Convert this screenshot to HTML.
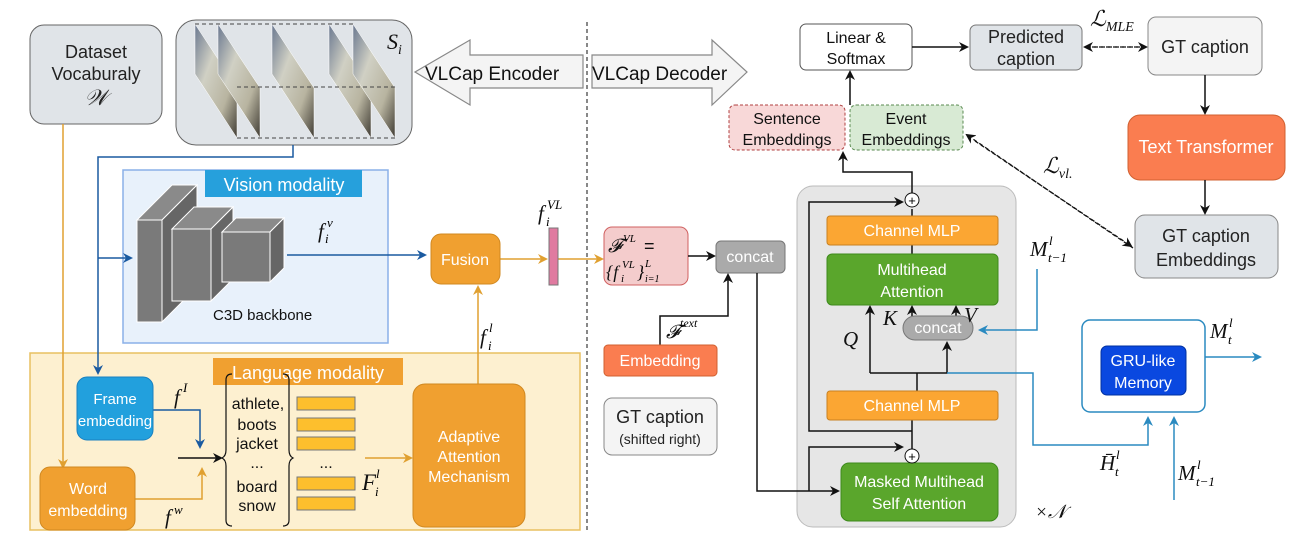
<!DOCTYPE html>
<html><head><meta charset="utf-8"><style>
html,body{margin:0;padding:0;background:#fff;}
svg{display:block;font-family:"Liberation Sans",sans-serif;}
.m{font-family:"Liberation Serif",serif;font-style:italic;}
</style></head><body>
<svg width="1292" height="550" viewBox="0 0 1292 550" xmlns="http://www.w3.org/2000/svg">
<defs>
<marker id="ab" markerWidth="10" markerHeight="10" refX="8" refY="5" orient="auto" markerUnits="userSpaceOnUse"><path d="M0,0 L10,5 L0,10 L3,5 z" fill="#1a5aa0"/></marker>
<marker id="ao" markerWidth="10" markerHeight="10" refX="8" refY="5" orient="auto" markerUnits="userSpaceOnUse"><path d="M0,0 L10,5 L0,10 L3,5 z" fill="#e0a030"/></marker>
<marker id="ak" markerWidth="10" markerHeight="10" refX="8" refY="5" orient="auto" markerUnits="userSpaceOnUse"><path d="M0,0 L10,5 L0,10 L3,5 z" fill="#111"/></marker>
<marker id="al" markerWidth="10" markerHeight="10" refX="8" refY="5" orient="auto" markerUnits="userSpaceOnUse"><path d="M0,0 L10,5 L0,10 L3,5 z" fill="#2a8ac0"/></marker>
<linearGradient id="fr" x1="0" y1="0" x2="1" y2="1"><stop offset="0" stop-color="#6a7890"/><stop offset="0.35" stop-color="#d0d0c4"/><stop offset="0.7" stop-color="#b8b4a0"/><stop offset="1" stop-color="#403c34"/></linearGradient>
</defs>

<rect x="30" y="25" width="132" height="99" rx="14" fill="#e0e4e8" stroke="#666"/>
<text x="96" y="58" font-size="18" text-anchor="middle" fill="#222">Dataset</text>
<text x="96" y="80" font-size="18" text-anchor="middle" fill="#222">Vocaburaly</text>
<text x="96" y="105" font-size="22" text-anchor="middle" class="m" fill="#222">𝒲</text>

<rect x="176" y="20" width="236" height="125" rx="20" fill="#e0e4e8" stroke="#666"/>
<g stroke="#fff" stroke-width="0.5" fill="url(#fr)">
<polygon points="195,24 237,88 237,138 195,74"/>
<polygon points="218,24 260,88 260,138 218,74"/>
<polygon points="272,24 314,88 314,138 272,74"/>
<polygon points="329,24 371,88 371,138 329,74"/>
<polygon points="353,24 395,88 395,138 353,74"/>
</g>
<g stroke="#444" stroke-dasharray="4,3" fill="none">
<line x1="195" y1="24" x2="355" y2="24"/><line x1="237" y1="87" x2="395" y2="87"/><line x1="237" y1="138" x2="395" y2="138"/>
</g>
<text x="387" y="49" font-size="22" class="m" fill="#111">S<tspan font-size="14" dy="5">i</tspan></text>

<polygon points="583,55 583,88 470,88 470,105 415,72 470,40 470,55" fill="#f4f4f4" stroke="#888" stroke-width="1.2"/>
<text x="425" y="80" font-size="19" fill="#111">VLCap Encoder</text>
<line x1="587" y1="22" x2="587" y2="532" stroke="#111" stroke-dasharray="4,3"/>
<polygon points="592,55 712,55 712,40 747,72 712,105 712,88 592,88" fill="#f4f4f4" stroke="#888" stroke-width="1.2"/>
<text x="592" y="80" font-size="19" fill="#111">VLCap Decoder</text>

<rect x="123" y="170" width="265" height="173" fill="#e8f1fb" stroke="#8ab0e8" stroke-width="1.5"/>
<rect x="205" y="170" width="157" height="27" fill="#26a0dc"/>
<text x="284" y="191" font-size="18" text-anchor="middle" fill="#fff">Vision modality</text>
<g stroke="#fff" stroke-width="1">
<polygon points="137,220 172,185 197,185 162,220" fill="#8a8a8a"/><polygon points="162,220 197,185 197,287 162,322" fill="#666"/><rect x="137" y="220" width="25" height="102" fill="#7a7a7a"/>
<polygon points="172,229 194,207 233,207 211,229" fill="#8a8a8a"/><polygon points="211,229 233,207 233,279 211,301" fill="#666"/><rect x="172" y="229" width="39" height="72" fill="#7a7a7a"/>
<polygon points="222,232 236,218 284,218 270,232" fill="#8a8a8a"/><polygon points="270,232 284,218 284,268 270,282" fill="#666"/><rect x="222" y="232" width="48" height="50" fill="#7a7a7a"/>
</g>
<text x="213" y="320" font-size="15" fill="#111">C3D backbone</text>
<text x="318" y="238" font-size="21" class="m" fill="#111">f</text><text x="327" y="227" font-size="13" class="m">v</text><text x="325" y="243" font-size="13" class="m">i</text>

<rect x="30" y="353" width="550" height="177" fill="#fdf0d0" stroke="#e8c060" stroke-width="1.5"/>
<rect x="213" y="358" width="190" height="27" fill="#f0a030"/>
<text x="308" y="379" font-size="18" text-anchor="middle" fill="#fff">Language  modality</text>

<polyline points="293,145 293,157 98,157 98,373" fill="none" stroke="#1a5aa0" stroke-width="1.5" marker-end="url(#ab)"/>
<line x1="98" y1="258" x2="131" y2="258" stroke="#1a5aa0" stroke-width="1.5" marker-end="url(#ab)"/>
<line x1="287" y1="255" x2="425" y2="255" stroke="#1a5aa0" stroke-width="1.5" marker-end="url(#ab)"/>
<polyline points="153,410 200,410 200,447" fill="none" stroke="#1a5aa0" stroke-width="1.5" marker-end="url(#ab)"/>
<line x1="63" y1="124" x2="63" y2="467" stroke="#e0a030" stroke-width="1.5" marker-end="url(#ao)"/>
<polyline points="135,499 202,499 202,469" fill="none" stroke="#e0a030" stroke-width="1.5" marker-end="url(#ao)"/>
<line x1="178" y1="458" x2="221" y2="458" stroke="#111" stroke-width="1.5" marker-end="url(#ak)"/>
<line x1="365" y1="458" x2="411" y2="458" stroke="#e0a030" stroke-width="1.5" marker-end="url(#ao)"/>
<line x1="478" y1="384" x2="478" y2="287" stroke="#e0a030" stroke-width="1.5" marker-end="url(#ao)"/>
<line x1="500" y1="259" x2="546" y2="259" stroke="#e0a030" stroke-width="1.5" marker-end="url(#ao)"/>
<line x1="558" y1="259" x2="602" y2="259" stroke="#e0a030" stroke-width="1.5" marker-end="url(#ao)"/>

<rect x="77" y="377" width="76" height="63" rx="10" fill="#22a0dd" stroke="#1a80c0"/>
<text x="115" y="404" font-size="15" text-anchor="middle" fill="#fff">Frame</text>
<text x="115" y="426" font-size="15" text-anchor="middle" fill="#fff">embedding</text>
<text x="174" y="404" font-size="21" class="m" fill="#111">f</text><text x="183" y="392" font-size="13" class="m">I</text>
<rect x="40" y="467" width="95" height="63" rx="10" fill="#f0a030" stroke="#d08820"/>
<text x="88" y="494" font-size="16" text-anchor="middle" fill="#fff">Word</text>
<text x="88" y="516" font-size="16" text-anchor="middle" fill="#fff">embedding</text>
<text x="165" y="524" font-size="21" class="m" fill="#111">f</text><text x="174" y="514" font-size="13" class="m">w</text>

<path d="M232,374 Q226,374 226,380 L226,450 Q226,456 222,458 Q226,460 226,466 L226,520 Q226,526 232,526" fill="none" stroke="#111" stroke-width="1.2"/>
<path d="M283,374 Q289,374 289,380 L289,450 Q289,456 293,458 Q289,460 289,466 L289,520 Q289,526 283,526" fill="none" stroke="#111" stroke-width="1.2"/>
<g font-size="16" text-anchor="middle" fill="#111">
<text x="258" y="409">athlete,</text><text x="257" y="430">boots</text><text x="257" y="449">jacket</text><text x="257" y="468">...</text><text x="257" y="492">board</text><text x="257" y="511">snow</text>
</g>
<g fill="#fdbf2d" stroke="#777" stroke-width="1">
<rect x="297" y="397" width="58" height="13"/><rect x="297" y="418" width="58" height="13"/><rect x="297" y="437" width="58" height="13"/><rect x="297" y="477" width="58" height="13"/><rect x="297" y="497" width="58" height="13"/>
</g>
<text x="326" y="468" font-size="16" text-anchor="middle" fill="#111">...</text>
<text x="362" y="490" font-size="23" class="m" fill="#111">F</text><text x="376" y="478" font-size="13" class="m">l</text><text x="375" y="496" font-size="13" class="m">i</text>

<rect x="413" y="384" width="112" height="143" rx="12" fill="#f0a030" stroke="#d08820"/>
<text x="469" y="442" font-size="16" text-anchor="middle" fill="#fff">Adaptive</text>
<text x="469" y="462" font-size="16" text-anchor="middle" fill="#fff">Attention</text>
<text x="469" y="482" font-size="16" text-anchor="middle" fill="#fff">Mechanism</text>
<text x="480" y="344" font-size="21" class="m" fill="#111">f</text><text x="489" y="332" font-size="13" class="m">l</text><text x="488" y="350" font-size="13" class="m">i</text>

<rect x="431" y="234" width="69" height="50" rx="10" fill="#f0a030" stroke="#d08820"/>
<text x="465" y="265" font-size="16" text-anchor="middle" fill="#fff">Fusion</text>
<rect x="549" y="228" width="9" height="57" fill="#e07aa0" stroke="#777"/>
<text x="538" y="220" font-size="21" class="m" fill="#111">f</text><text x="547" y="209" font-size="13" class="m">VL</text><text x="546" y="226" font-size="13" class="m">i</text>

<rect x="604" y="227" width="84" height="58" rx="8" fill="#f4cccc" stroke="#d06060"/>
<text x="608" y="252" font-size="19" class="m" fill="#111">𝓕</text><text x="623" y="242" font-size="11" class="m">VL</text><text x="644" y="252" font-size="18" fill="#111">=</text>
<text x="606" y="278" font-size="18" class="m" fill="#111">{f</text><text x="622" y="268" font-size="11" class="m">VL</text><text x="621" y="282" font-size="11" class="m">i</text><text x="637" y="278" font-size="18" class="m">}</text><text x="645" y="267" font-size="11" class="m">L</text><text x="645" y="282" font-size="10" class="m">i=1</text>
<line x1="688" y1="256" x2="714" y2="256" stroke="#111" stroke-width="1.5" marker-end="url(#ak)"/>
<rect x="716" y="241" width="69" height="32" rx="5" fill="#aaa" stroke="#777"/>
<text x="750" y="262" font-size="16" text-anchor="middle" fill="#fff">concat</text>
<polyline points="660,345 660,316 728,316 728,275" fill="none" stroke="#111" stroke-width="1.5" marker-end="url(#ak)"/>
<text x="666" y="338" font-size="19" class="m" fill="#111">𝓕</text><text x="680" y="327" font-size="12" class="m">text</text>
<rect x="604" y="345" width="113" height="31" rx="4" fill="#fa7d50" stroke="#d06030"/>
<text x="660" y="366" font-size="16" text-anchor="middle" fill="#fff">Embedding</text>
<rect x="604" y="398" width="113" height="57" rx="8" fill="#f4f4f4" stroke="#888"/>
<text x="660" y="423" font-size="18" text-anchor="middle" fill="#222">GT caption</text>
<text x="660" y="444" font-size="14" text-anchor="middle" fill="#222">(shifted right)</text>

<rect x="797" y="186" width="219" height="341" rx="16" fill="#e6e6e6" stroke="#bbb"/>
<polyline points="757,273 757,491 838,491" fill="none" stroke="#111" stroke-width="1.5" marker-end="url(#ak)"/>
<polyline points="809,491 809,447 902,447" fill="none" stroke="#111" stroke-width="1.5" marker-end="url(#ak)"/>
<polyline points="912,431 809,431 809,202 902,202" fill="none" stroke="#111" stroke-width="1.5" marker-end="url(#ak)"/>
<line x1="912" y1="463" x2="912" y2="465" stroke="#111" stroke-width="1.5"/>
<line x1="912" y1="420" x2="912" y2="449" stroke="#111" stroke-width="1.5"/>
<line x1="912" y1="209" x2="912" y2="216" stroke="#111" stroke-width="1.5"/>
<line x1="912" y1="245" x2="912" y2="254" stroke="#111" stroke-width="1.5"/>
<line x1="917" y1="391" x2="917" y2="373" stroke="#111" stroke-width="1.5"/>
<polyline points="870,373 870,307" fill="none" stroke="#111" stroke-width="1.5" marker-end="url(#ak)"/>
<polyline points="870,373 947,373 947,343" fill="none" stroke="#111" stroke-width="1.5" marker-end="url(#ak)"/>
<line x1="912" y1="316" x2="912" y2="307" stroke="#111" stroke-width="1.5" marker-end="url(#ak)"/>
<line x1="956" y1="316" x2="956" y2="307" stroke="#111" stroke-width="1.5" marker-end="url(#ak)"/>
<rect x="827" y="216" width="171" height="29" rx="3" fill="#fba633" stroke="#c88020"/>
<text x="912" y="236" font-size="16" text-anchor="middle" fill="#fff">Channel MLP</text>
<rect x="827" y="254" width="171" height="51" rx="5" fill="#5aa62c" stroke="#3d8a1c"/>
<text x="912" y="275" font-size="16" text-anchor="middle" fill="#fff">Multihead</text>
<text x="912" y="297" font-size="16" text-anchor="middle" fill="#fff">Attention</text>
<rect x="903" y="316" width="70" height="24" rx="12" fill="#aaa" stroke="#777"/>
<text x="938" y="333" font-size="16" text-anchor="middle" fill="#fff">concat</text>
<text x="883" y="325" font-size="21" class="m" fill="#111">K</text>
<text x="964" y="322" font-size="21" class="m" fill="#111">V</text>
<text x="843" y="346" font-size="21" class="m" fill="#111">Q</text>
<rect x="827" y="391" width="171" height="29" rx="3" fill="#fba633" stroke="#c88020"/>
<text x="912" y="411" font-size="16" text-anchor="middle" fill="#fff">Channel MLP</text>
<rect x="841" y="463" width="157" height="58" rx="8" fill="#5aa62c" stroke="#3d8a1c"/>
<text x="919" y="487" font-size="16" text-anchor="middle" fill="#fff">Masked Multihead</text>
<text x="919" y="509" font-size="16" text-anchor="middle" fill="#fff">Self Attention</text>
<circle cx="912" cy="200" r="7" fill="#fff" stroke="#111"/><text x="912" y="205" font-size="13" text-anchor="middle">+</text>
<circle cx="912" cy="456" r="7" fill="#fff" stroke="#111"/><text x="912" y="461" font-size="13" text-anchor="middle">+</text>
<polyline points="912,193 912,172 843,172 843,153" fill="none" stroke="#111" stroke-width="1.5" marker-end="url(#ak)"/>
<text x="1035" y="518" font-size="19" class="m" fill="#111">×𝒩</text>

<rect x="729" y="105" width="116" height="45" rx="6" fill="#f8d8d8" stroke="#b04040" stroke-dasharray="3,2"/>
<text x="787" y="124" font-size="16" text-anchor="middle" fill="#111">Sentence</text>
<text x="787" y="145" font-size="16" text-anchor="middle" fill="#111">Embeddings</text>
<rect x="850" y="105" width="113" height="45" rx="6" fill="#d8ead4" stroke="#5a8a50" stroke-dasharray="3,2"/>
<text x="906" y="124" font-size="16" text-anchor="middle" fill="#111">Event</text>
<text x="906" y="145" font-size="16" text-anchor="middle" fill="#111">Embeddings</text>
<line x1="850" y1="105" x2="850" y2="72" stroke="#111" stroke-width="1.5" marker-end="url(#ak)"/>
<rect x="800" y="24" width="112" height="46" rx="6" fill="#fff" stroke="#555"/>
<text x="856" y="43" font-size="16" text-anchor="middle" fill="#111">Linear &amp;</text>
<text x="856" y="64" font-size="16" text-anchor="middle" fill="#111">Softmax</text>
<line x1="912" y1="47" x2="967" y2="47" stroke="#111" stroke-width="1.5" marker-end="url(#ak)"/>
<rect x="970" y="25" width="112" height="45" rx="6" fill="#e0e4e8" stroke="#777"/>
<text x="1026" y="43" font-size="18" text-anchor="middle" fill="#222">Predicted</text>
<text x="1026" y="65" font-size="18" text-anchor="middle" fill="#222">caption</text>
<line x1="1092" y1="47" x2="1146" y2="47" stroke="#111" stroke-width="1.3" stroke-dasharray="4,3" marker-end="url(#ak)"/>
<line x1="1140" y1="47" x2="1085" y2="47" stroke="#111" stroke-width="1.3" stroke-dasharray="4,3" marker-end="url(#ak)"/>
<text x="1090" y="26" font-size="22" class="m" fill="#111">ℒ<tspan font-size="14" dy="5">MLE</tspan></text>
<rect x="1148" y="17" width="114" height="58" rx="8" fill="#f4f4f4" stroke="#888"/>
<text x="1205" y="53" font-size="18" text-anchor="middle" fill="#222">GT caption</text>
<line x1="1205" y1="75" x2="1205" y2="113" stroke="#111" stroke-width="1.5" marker-end="url(#ak)"/>
<rect x="1128" y="115" width="157" height="65" rx="12" fill="#fa7d50" stroke="#d06030"/>
<text x="1206" y="153" font-size="18" text-anchor="middle" fill="#fff">Text Transformer</text>
<line x1="1205" y1="180" x2="1205" y2="213" stroke="#111" stroke-width="1.5" marker-end="url(#ak)"/>
<rect x="1135" y="215" width="143" height="63" rx="10" fill="#e0e4e8" stroke="#888"/>
<text x="1206" y="242" font-size="18" text-anchor="middle" fill="#222">GT caption</text>
<text x="1206" y="266" font-size="18" text-anchor="middle" fill="#222">Embeddings</text>
<line x1="1133" y1="248" x2="967" y2="135" stroke="#111" stroke-width="1.3" stroke-dasharray="4,3" marker-end="url(#ak)"/>
<line x1="975" y1="141" x2="1131" y2="246" stroke="#111" stroke-width="1.3" stroke-dasharray="4,3" marker-end="url(#ak)"/>
<text x="1043" y="173" font-size="22" class="m" fill="#111">ℒ<tspan font-size="14" dy="5">vl.</tspan></text>

<polyline points="1037,269 1037,330 980,330" fill="none" stroke="#2a8ac0" stroke-width="1.5" marker-end="url(#al)"/>
<text x="1030" y="256" font-size="21" class="m" fill="#111">M</text><text x="1049" y="245" font-size="13" class="m">l</text><text x="1048" y="262" font-size="13" class="m">t−1</text>
<polyline points="947,373 1033,373 1033,445 1148,445 1148,418" fill="none" stroke="#2a8ac0" stroke-width="1.5" marker-end="url(#al)"/>
<line x1="1174" y1="500" x2="1174" y2="418" stroke="#2a8ac0" stroke-width="1.5" marker-end="url(#al)"/>
<rect x="1082" y="320" width="123" height="92" rx="8" fill="#fff" stroke="#2a8ac0" stroke-width="1.5"/>
<rect x="1101" y="346" width="85" height="49" rx="6" fill="#0a48e0" stroke="#0030a0"/>
<text x="1143" y="366" font-size="16" text-anchor="middle" fill="#fff">GRU-like</text>
<text x="1143" y="388" font-size="16" text-anchor="middle" fill="#fff">Memory</text>
<line x1="1205" y1="357" x2="1260" y2="357" stroke="#2a8ac0" stroke-width="1.5" marker-end="url(#al)"/>
<text x="1210" y="338" font-size="21" class="m" fill="#111">M</text><text x="1229" y="327" font-size="13" class="m">l</text><text x="1228" y="344" font-size="13" class="m">t</text>
<text x="1100" y="470" font-size="21" class="m" fill="#111">H̄</text><text x="1116" y="459" font-size="13" class="m">l</text><text x="1115" y="476" font-size="13" class="m">t</text>
<text x="1178" y="480" font-size="21" class="m" fill="#111">M</text><text x="1197" y="469" font-size="13" class="m">l</text><text x="1196" y="486" font-size="13" class="m">t−1</text>
</svg>
</body></html>
